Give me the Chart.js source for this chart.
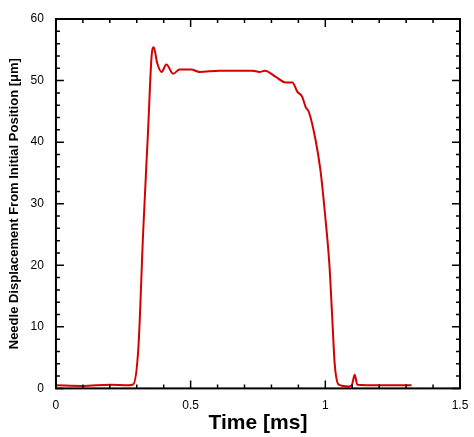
<!DOCTYPE html>
<html><head>
<script src="https://cdn.jsdelivr.net/npm/chart.js@4/dist/chart.umd.min.js"></script>
<style>body{margin:0;background:#fff}#wrap{width:474px;height:437px}</style>
</head><body>
<div id="wrap"><canvas id="c"></canvas></div>
<script>
const timeMs = [0, 0.1, 0.2, 0.27, 0.287, 0.306, 0.324, 0.342, 0.355, 0.363, 0.376, 0.392, 0.41, 0.435, 0.459, 0.502, 0.533, 0.607, 0.73, 0.755, 0.776, 0.816, 0.853, 0.878, 0.896, 0.914, 0.927, 0.939, 0.964, 0.982, 1.0, 1.015, 1.025, 1.035, 1.05, 1.087, 1.099, 1.109, 1.119, 1.2, 1.32];
const displacement = [0.5, 0.4, 0.6, 0.5, 0.65, 6.6, 25.6, 41.9, 53.9, 55.4, 52.8, 51.4, 52.6, 51.1, 51.8, 51.8, 51.4, 51.6, 51.6, 51.4, 51.6, 50.6, 49.7, 49.7, 48.2, 47.4, 45.7, 44.9, 40.3, 35.4, 27.8, 20.2, 12.1, 3.9, 0.6, 0.3, 0.6, 2.2, 0.6, 0.5, 0.5];
const xTicks = [0, 0.5, 1, 1.5];
const yTicks = [0, 10, 20, 30, 40, 50, 60];

const inwardTicks = {
  id: 'inwardTicks',
  afterDraw(chart) {
    const {ctx, chartArea: a, scales: {x, y}} = chart;
    ctx.save();
    ctx.strokeStyle = '#000';
    ctx.lineWidth = 1.5;
    ctx.beginPath();
    for (let v = 0; v <= 1.5001; v += 0.1) {
      const px = x.getPixelForValue(v);
      const major = Math.abs(v * 2 - Math.round(v * 2)) < 1e-6;
      const len = major ? 8 : 4;
      ctx.moveTo(px, a.bottom); ctx.lineTo(px, a.bottom - len);
      ctx.moveTo(px, a.top); ctx.lineTo(px, a.top + len);
    }
    for (let v = 0; v <= 60; v += 2) {
      const py = y.getPixelForValue(v);
      const len = v % 10 === 0 ? 8 : 4;
      ctx.moveTo(a.left, py); ctx.lineTo(a.left + len, py);
      ctx.moveTo(a.right, py); ctx.lineTo(a.right - len, py);
    }
    ctx.stroke();
    ctx.lineWidth = 2;
    ctx.strokeRect(a.left, a.top, a.right - a.left, a.bottom - a.top);
    ctx.restore();
  }
};

new Chart(document.getElementById('c'), {
  type: 'line',
  data: {
    datasets: [{
      data: timeMs.map((t, i) => ({x: t, y: displacement[i]})),
      borderColor: '#d40000',
      borderWidth: 2,
      pointRadius: 0,
      cubicInterpolationMode: 'monotone',
      fill: false
    }]
  },
  options: {
    responsive: true,
    maintainAspectRatio: false,
    animation: false,
    layout: {padding: {top: 19, right: 14, left: 7, bottom: 1}},
    plugins: {legend: {display: false}, tooltip: {enabled: false}},
    scales: {
      x: {
        type: 'linear', min: 0, max: 1.5,
        afterBuildTicks: s => { s.ticks = xTicks.map(v => ({value: v})); },
        grid: {display: false},
        border: {display: false},
        ticks: {color: '#000', font: {family: 'Liberation Sans', size: 12}, maxRotation: 0, padding: 2, callback: v => String(v)},
        title: {display: true, text: 'Time [ms]', color: '#000', font: {family: 'Liberation Sans', size: 21, weight: 'bold'}, padding: {top: -4, bottom: 0}}
      },
      y: {
        min: 0, max: 60,
        afterBuildTicks: s => { s.ticks = yTicks.map(v => ({value: v})); },
        grid: {display: false},
        border: {display: false},
        ticks: {color: '#000', font: {family: 'Liberation Sans', size: 12}, padding: 4},
        title: {display: true, text: 'Needle Displacement From Initial Position [μm]', color: '#000', font: {family: 'Liberation Sans', size: 13, weight: 'bold'}, padding: {top: 0, bottom: 4}}
      }
    }
  },
  plugins: [inwardTicks]
});
</script>
</body></html>
